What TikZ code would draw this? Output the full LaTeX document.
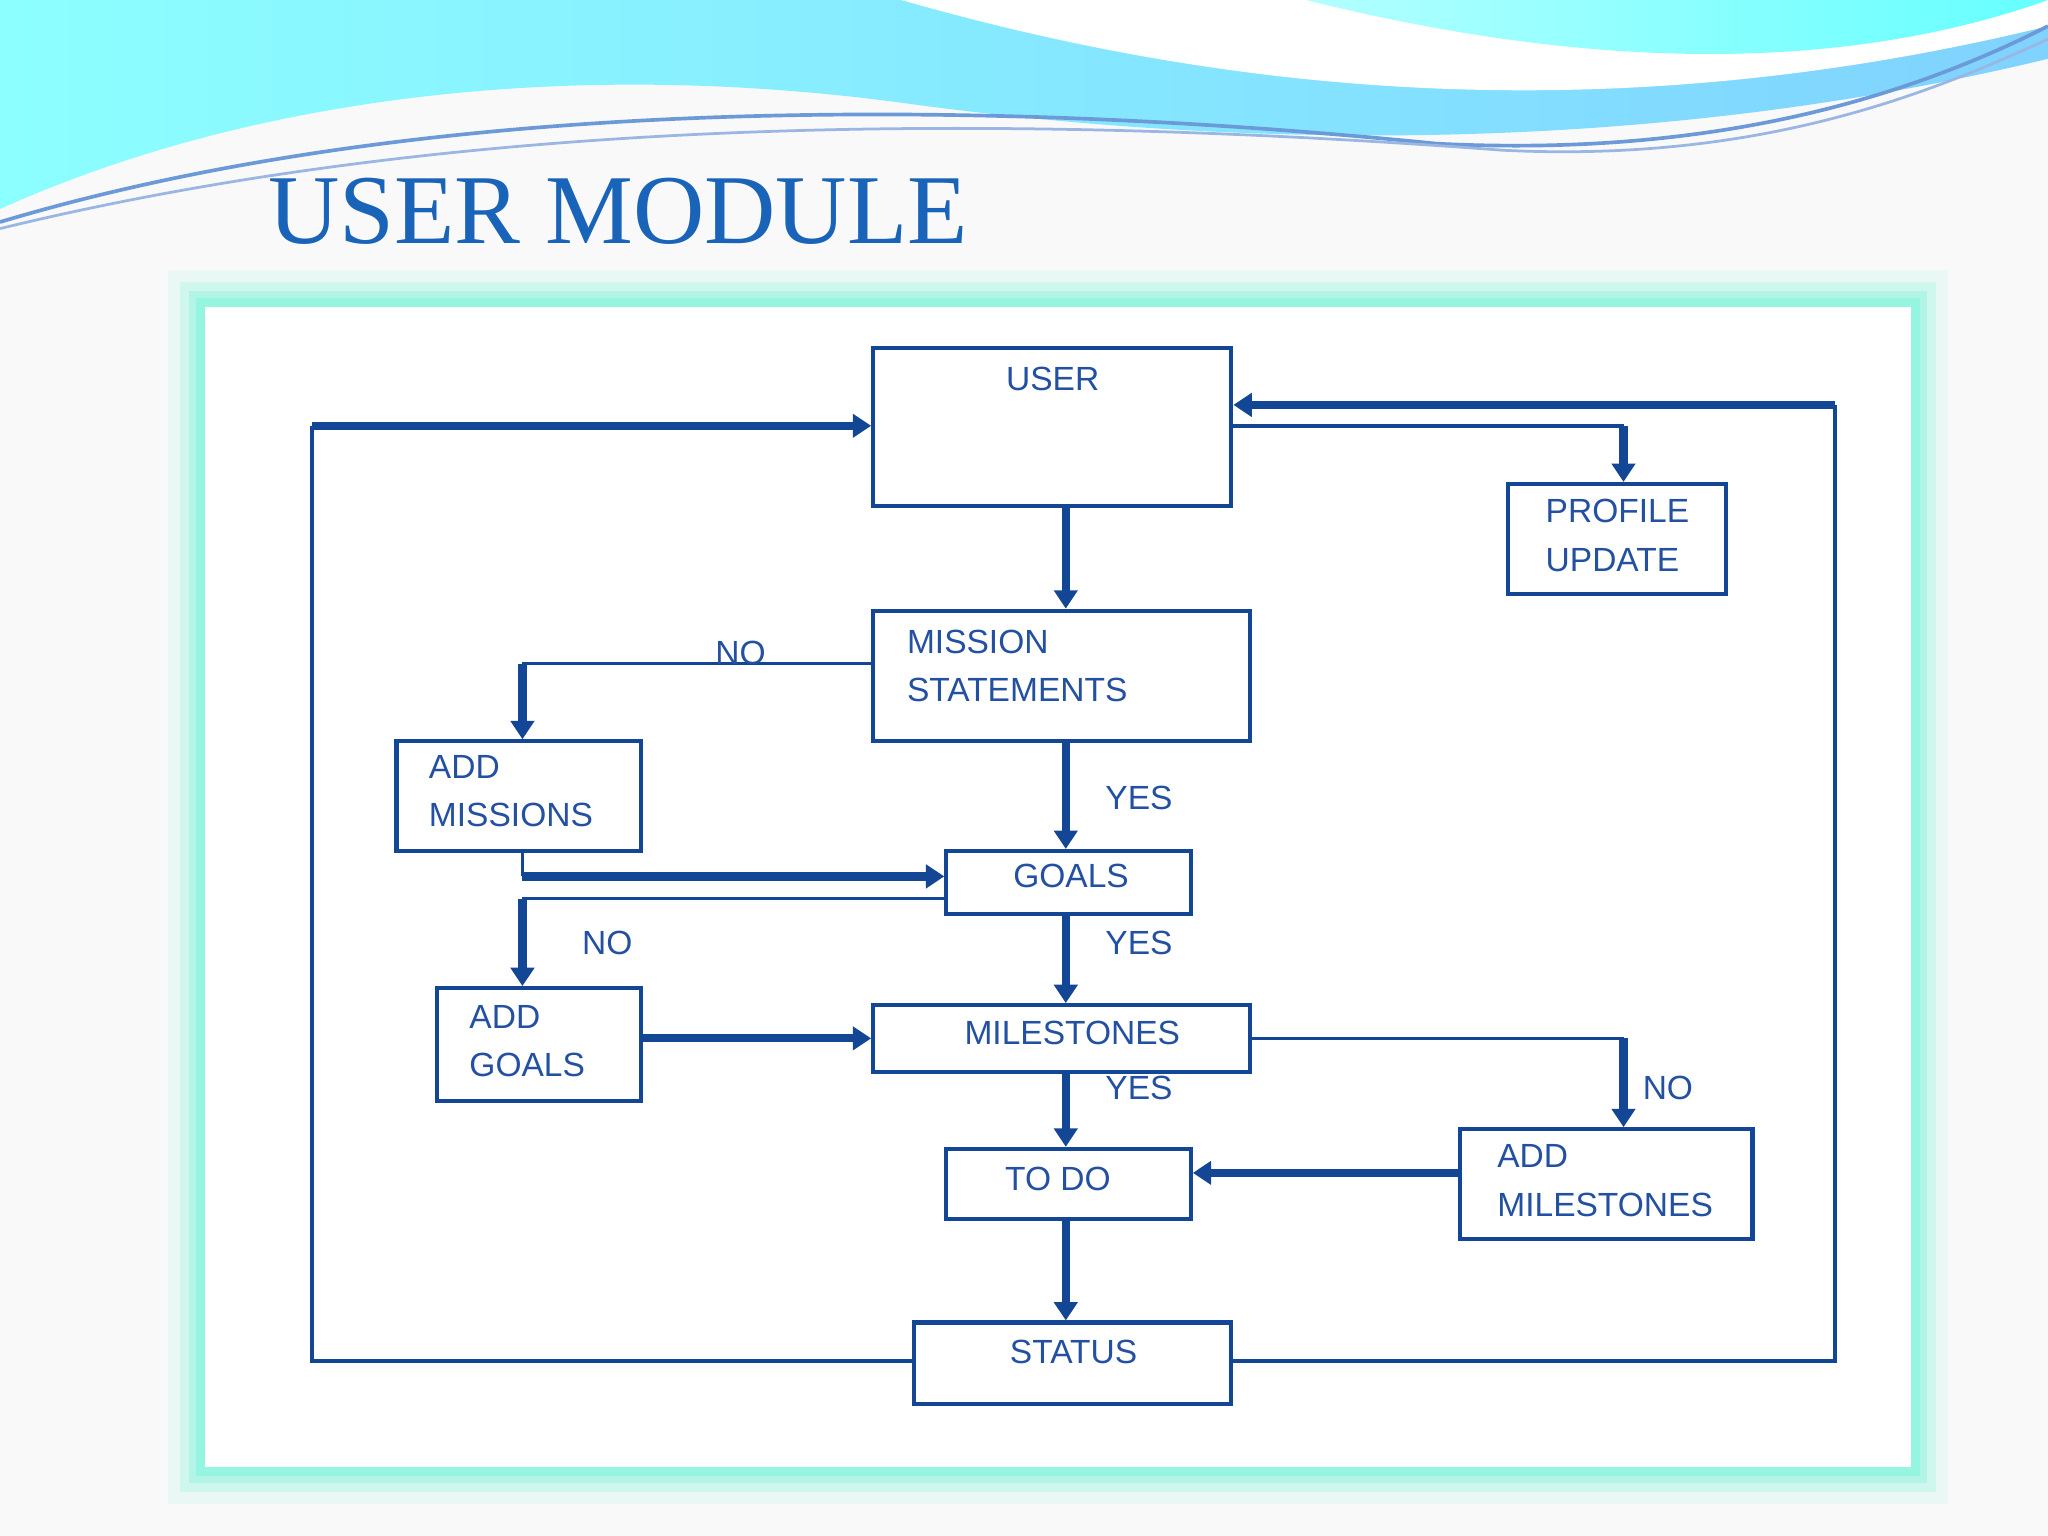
\documentclass[tikz,border=0pt]{standalone}
\usepackage{fontspec}
\setmainfont{Liberation Serif}
\newfontfamily\boxfont{Liberation Sans}
\usetikzlibrary{arrows.meta}
\definecolor{lc}{RGB}{20,70,150}
\definecolor{tc}{RGB}{25,100,185}
\definecolor{bx}{RGB}{35,80,160}
\definecolor{glow}{RGB}{150,245,225}
\begin{document}
\begin{tikzpicture}[x=0.01cm,y=-0.01cm,
  box/.style={draw=lc,line width=0.9pt,inner sep=0pt},
  lab/.style={font=\boxfont\fontsize{7.3}{10.5}\selectfont,text=bx,align=left},
  thin/.style={draw=lc,line width=0.8pt},
  thick/.style={draw=lc,line width=1.8pt},
  arr/.style={-{Triangle[length=4pt,width=5pt]}}]
\useasboundingbox (0,0) rectangle (1568,1176);
\fill[white!95!gray] (0,0) rectangle (1568,1176);
% top waves
\shade[left color=cyan!45,right color=blue!35!cyan!50] (0,0) -- (1568,0) -- (1568,45) .. controls (1300,110) and (1000,120) .. (700,80) .. controls (450,45) and (200,70) .. (0,160) -- cycle;
\fill[white] (690,0) .. controls (900,60) and (1200,110) .. (1568,20) -- (1568,0) -- cycle;
\shade[left color=cyan!30,right color=cyan!60] (1000,0) .. controls (1200,50) and (1400,60) .. (1568,0) -- cycle;
\draw[cyan!50!blue!60,line width=0.8pt] (0,170) .. controls (300,80) and (700,70) .. (1100,110) .. controls (1300,120) and (1450,80) .. (1568,20);
\draw[cyan!50!blue!40,line width=0.6pt] (0,175) .. controls (350,90) and (750,85) .. (1150,115) .. controls (1350,125) and (1480,70) .. (1568,30);
\node[font=\fontsize{21.5}{26}\selectfont,text=tc,anchor=west] (title) at (193,162) {USER MODULE};
% frame
\foreach \w/\op in {16/0.15,11/0.3,7/0.5}{\draw[glow,line width=\w pt,opacity=\op] (157,235) rectangle (1463,1123);}
\draw[glow,line width=4pt] (157,235) rectangle (1463,1123);
\fill[white] (157,235) rectangle (1463,1123);
% boxes
\node[box,minimum width=2.74cm,minimum height=1.21cm,anchor=north west] (user) at (667,265) {};
\node[lab] (tuser) at (806,290) {USER};
\node[box,minimum width=1.67cm,minimum height=0.84cm,anchor=north west] (prof) at (1153,369) {};
\node[lab,anchor=west] (tprof) at (1171,410) {PROFILE\\UPDATE};
\node[box,minimum width=2.88cm,minimum height=1.00cm,anchor=north west] (ms) at (667,466) {};
\node[lab,anchor=west] (tms) at (682,510) {MISSION\\STATEMENTS};
\node[box,minimum width=1.87cm,minimum height=0.84cm,anchor=north west] (am) at (302,566) {};
\node[lab,anchor=west] (tam) at (316,606) {ADD\\MISSIONS};
\node[box,minimum width=1.87cm,minimum height=0.48cm,anchor=north west] (goals) at (723,650) {};
\node[lab] (tgoals) at (820,671) {GOALS};
\node[box,minimum width=1.56cm,minimum height=0.86cm,anchor=north west] (ag) at (333,755) {};
\node[lab,anchor=west] (tag) at (347,797) {ADD\\GOALS};
\node[box,minimum width=2.88cm,minimum height=0.51cm,anchor=north west] (mil) at (667,768) {};
\node[lab] (tmil) at (821,791) {MILESTONES};
\node[box,minimum width=1.87cm,minimum height=0.54cm,anchor=north west] (todo) at (723,878) {};
\node[lab] (ttodo) at (810,903) {TO DO};
\node[box,minimum width=2.24cm,minimum height=0.84cm,anchor=north west] (amil) at (1116,863) {};
\node[lab,anchor=west] (tamil) at (1134,904) {ADD\\MILESTONES};
\node[box,minimum width=2.43cm,minimum height=0.62cm,anchor=north west] (status) at (698,1011) {};
\node[lab] (tstatus) at (822,1035) {STATUS};
% helper coordinates
\coordinate (vx) at (816,0);
\coordinate (c1) at (1243,326);
\coordinate (c2) at (1405,310);
\coordinate (c2b) at (1405,1042);
\coordinate (c3) at (239,326);
\coordinate (c3b) at (239,1042);
\coordinate (c4) at (400,508);
\coordinate (c5) at (400,671);
\coordinate (c6) at (400,688);
\coordinate (c7) at (1243,795);
\coordinate (h1) at (0,795);
\coordinate (h2) at (0,898);
% connectors
\draw[thick,arr] (user.south -| vx) -- (ms.north -| vx);
\draw[thin] (user.east |- c1) -- (c1);
\draw[thick,arr] (c1) -- (prof.north -| c1);
\draw[thin] (status.east |- c2b) -- (c2b) -- (c2);
\draw[thick,arr] (c2) -- (user.east |- c2);
\draw[thin] (status.west |- c3b) -- (c3b) -- (c3);
\draw[thick,arr] (c3) -- (user.west |- c3);
\draw[thin] (ms.west |- c4) -- (c4);
\draw[thick,arr] (c4) -- (am.north -| c4);
\draw[thin] (am.south -| c5) -- (c5);
\draw[thick,arr] (c5) -- (goals.west |- c5);
\draw[thick,arr] (ms.south -| vx) -- (goals.north -| vx);
\draw[thin] (goals.west |- c6) -- (c6);
\draw[thick,arr] (c6) -- (ag.north -| c6);
\draw[thick,arr] (goals.south -| vx) -- (mil.north -| vx);
\draw[thick,arr] (ag.east |- h1) -- (mil.west |- h1);
\draw[thin] (mil.east |- c7) -- (c7);
\draw[thick,arr] (c7) -- (amil.north -| c7);
\draw[thick,arr] (mil.south -| vx) -- (todo.north -| vx);
\draw[thick,arr] (amil.west |- h2) -- (todo.east |- h2);
\draw[thick,arr] (todo.south -| vx) -- (status.north -| vx);
% labels
\node[lab] (n1) at (567,500) {NO};
\node[lab] (y1) at (872,611) {YES};
\node[lab] (n2) at (465,722) {NO};
\node[lab] (y2) at (872,722) {YES};
\node[lab] (y3) at (872,833) {YES};
\node[lab] (n3) at (1277,833) {NO};
\end{tikzpicture}
\end{document}
